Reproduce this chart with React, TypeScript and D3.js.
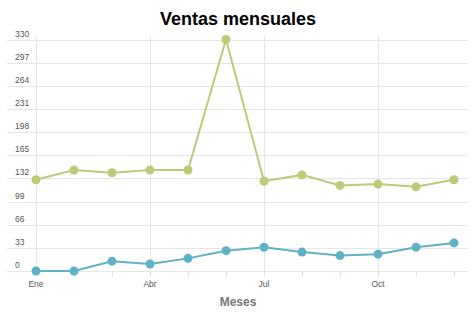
import { useEffect, useRef } from "react";
import * as d3 from "d3";

const months = ["Ene", "Feb", "Mar", "Abr", "May", "Jun", "Jul", "Ago", "Sep", "Oct", "Nov", "Dic"];
const tickLabels = ["Ene", "Abr", "Jul", "Oct"];
const yTicks = [0, 33, 66, 99, 132, 165, 198, 231, 264, 297, 330];
const ventasA = [130, 144, 140, 144, 144, 330, 128, 137, 122, 124, 120, 130];
const ventasB = [0, 0, 14, 10, 18, 29, 34, 27, 22, 24, 34, 40];

const series = [
  { name: "A", values: ventasA, color: "#bccb78" },
  { name: "B", values: ventasB, color: "#5fb2c6" },
];

export default function App() {
  const svgRef = useRef<SVGSVGElement | null>(null);

  useEffect(() => {
    const width = 474;
    const height = 312;
    const svg = d3.select(svgRef.current).attr("width", width).attr("height", height);
    svg.selectAll("*").remove();

    const x = d3.scalePoint<string>().domain(months).range([36, 454]);
    const y = d3.scaleLinear().domain([0, 330]).range([271, 39.5]);

    // horizontal grid + labels
    const grid = svg.append("g");
    yTicks.forEach((t) => {
      grid
        .append("line")
        .attr("x1", 7)
        .attr("x2", 468)
        .attr("y1", Math.round(y(t)) + 0.5)
        .attr("y2", Math.round(y(t)) + 0.5)
        .attr("stroke", "#e6e6e6")
        .attr("stroke-width", 1);
      grid
        .append("text")
        .attr("x", 15)
        .attr("y", y(t) - 3)
        .attr("font-family", "Liberation Sans, Arial, sans-serif")
        .attr("font-size", 8.5)
        .attr("fill", "#555")
        .text(t);
    });

    // vertical grid lines every 3 months
    tickLabels.forEach((m) => {
      grid
        .append("line")
        .attr("x1", Math.round(x(m)!) + 0.5)
        .attr("x2", Math.round(x(m)!) + 0.5)
        .attr("y1", 36)
        .attr("y2", 272)
        .attr("stroke", "#e6e6e6");
    });

    // month tick marks
    months.forEach((m) => {
      grid
        .append("line")
        .attr("x1", Math.round(x(m)!) + 0.5)
        .attr("x2", Math.round(x(m)!) + 0.5)
        .attr("y1", 271)
        .attr("y2", 277)
        .attr("stroke", "#e0e0e0");
    });

    svg
      .append("g")
      .selectAll("text")
      .data(tickLabels)
      .join("text")
      .attr("x", (d) => x(d)!)
      .attr("y", 287)
      .attr("text-anchor", "middle")
      .attr("font-family", "Liberation Sans, Arial, sans-serif")
      .attr("font-size", 8.5)
      .attr("fill", "#555")
      .text((d) => d);

    const line = d3
      .line<number>()
      .x((_, i) => x(months[i])!)
      .y((d) => y(d));

    series.forEach((s) => {
      svg
        .append("path")
        .datum(s.values)
        .attr("d", line)
        .attr("fill", "none")
        .attr("stroke", s.color)
        .attr("stroke-width", 2);
      svg
        .append("g")
        .selectAll("circle")
        .data(s.values)
        .join("circle")
        .attr("cx", (_, i) => x(months[i])!)
        .attr("cy", (d) => y(d))
        .attr("r", 4.5)
        .attr("fill", s.color);
    });

    svg
      .append("text")
      .attr("x", 238)
      .attr("y", 25)
      .attr("text-anchor", "middle")
      .attr("font-family", "Liberation Sans, Arial, sans-serif")
      .attr("font-size", 18)
      .attr("font-weight", "bold")
      .attr("fill", "#000")
      .text("Ventas mensuales");

    svg
      .append("text")
      .attr("x", 238)
      .attr("y", 306)
      .attr("text-anchor", "middle")
      .attr("font-family", "Liberation Sans, Arial, sans-serif")
      .attr("font-size", 12)
      .attr("font-weight", "bold")
      .attr("fill", "#777")
      .text("Meses");
  }, []);

  return (
    <div style={{ position: "absolute", left: 0, top: 0 }}>
      <svg ref={svgRef} style={{ display: "block" }}></svg>
    </div>
  );
}
